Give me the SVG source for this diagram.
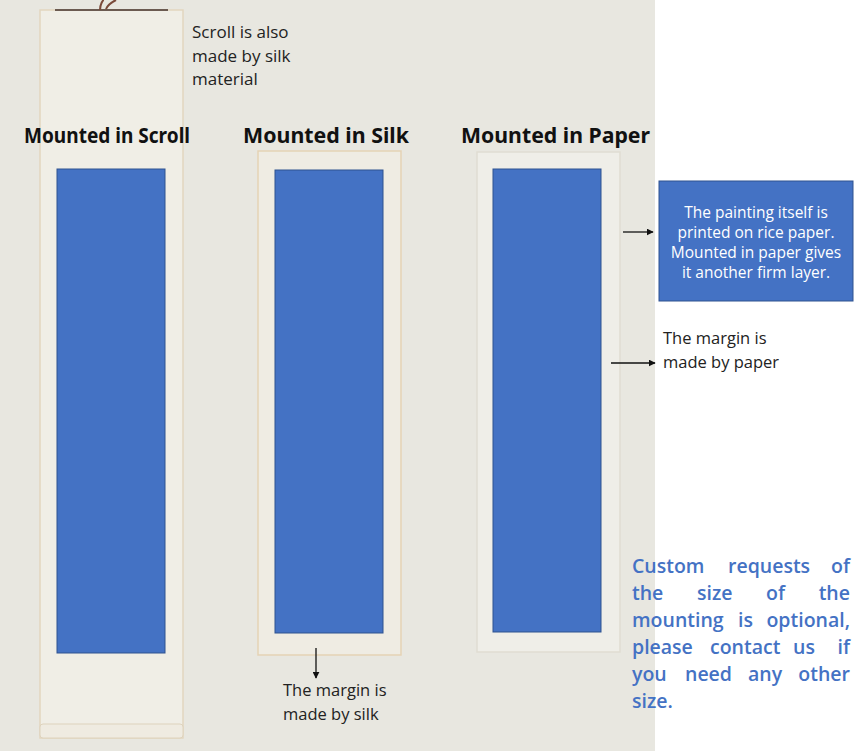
<svg xmlns="http://www.w3.org/2000/svg" width="859" height="751" viewBox="0 0 859 751">
<style>
.t{font-family:"Open Sans","Liberation Sans",sans-serif;fill:#222}
.h{font-family:"Noto Sans","Liberation Sans",sans-serif;font-weight:bold;font-size:21px;fill:#111}
.w{font-family:"Open Sans","Liberation Sans",sans-serif;font-size:15.5px;fill:#fff;text-anchor:middle}
.c{font-family:"Open Sans","Liberation Sans",sans-serif;font-size:19.5px;font-weight:600;fill:#4472c4}
.blue{fill:#4472c4;stroke:#2f528f;stroke-width:1}
.ln{stroke:#111;stroke-width:1.3;fill:none}
</style>
<defs>
<marker id="ah" viewBox="0 0 10 10" refX="9" refY="5" markerWidth="7" markerHeight="7" orient="auto" markerUnits="userSpaceOnUse"><path d="M0,0 L10,5 L0,10 z" fill="#111"/></marker>
</defs>
<rect x="0" y="0" width="859" height="751" fill="#fff"/>
<rect x="0" y="0" width="655" height="751" fill="#e8e7e0"/>
<g id="scroll">
<rect x="40" y="10" width="143" height="728" fill="#f0eee6" stroke="#e2d6bf" stroke-width="1.5"/>
<rect x="40" y="724" width="143" height="14" rx="3" fill="#efebe1" stroke="#ded3bd" stroke-width="1"/>
<path d="M55,10 L168,10" stroke="#6b5a50" stroke-width="2"/>
<path d="M100,10 C100,4 103,0 104,0 M106,9 C108,4 112,2 116,0" stroke="#7a4a3a" stroke-width="2" fill="none"/>
<rect class="blue" x="57" y="169" width="108" height="484"/>
</g>
<g id="silk">
<rect x="258" y="151" width="143" height="504" fill="#efece3" stroke="#e5d3b5" stroke-width="1.5"/>
<rect class="blue" x="275" y="170" width="108" height="463"/>
</g>
<g id="paper">
<rect x="477" y="152" width="143" height="500" fill="#efeee8" stroke="#e0ddd2" stroke-width="1.5"/>
<rect class="blue" x="493" y="169" width="108" height="463"/>
</g>
<g id="titles">
<text class="h" x="24" y="143" textLength="166" lengthAdjust="spacingAndGlyphs">Mounted in Scroll</text>
<text class="h" x="243" y="143" textLength="166" lengthAdjust="spacingAndGlyphs">Mounted in Silk</text>
<text class="h" x="461" y="143" textLength="189" lengthAdjust="spacingAndGlyphs">Mounted in Paper</text>
</g>
<g id="scroll-note">
<text class="t" font-size="17" x="192" y="38">Scroll is also</text>
<text class="t" font-size="17" x="192" y="62">made by silk</text>
<text class="t" font-size="17" x="192" y="85">material</text>
</g>
<g id="painting-note">
<rect class="blue" x="659" y="181" width="194" height="120" stroke="#4a6fb0"/>
<text class="w" x="756" y="218">The painting itself is</text>
<text class="w" x="756" y="238">printed on rice paper.</text>
<text class="w" x="756" y="258">Mounted in paper gives</text>
<text class="w" x="756" y="278">it another firm layer.</text>
</g>
<g id="paper-note">
<text class="t" font-size="16.5" x="663" y="344">The margin is</text>
<text class="t" font-size="16.5" x="663" y="368">made by paper</text>
</g>
<g id="silk-note">
<text class="t" font-size="16.5" x="283" y="696">The margin is</text>
<text class="t" font-size="16.5" x="283" y="720">made by silk</text>
</g>
<g id="connectors">
<line class="ln" x1="623" y1="232" x2="653" y2="232" marker-end="url(#ah)"/>
<line class="ln" x1="611" y1="363" x2="655" y2="363" marker-end="url(#ah)"/>
<line class="ln" x1="316" y1="648" x2="316" y2="678" marker-end="url(#ah)"/>
</g>
<g id="custom-note">
<text class="c" y="573"><tspan x="632">Custom</tspan><tspan x="728">requests</tspan><tspan x="850" text-anchor="end">of</tspan></text>
<text class="c" y="600"><tspan x="632">the</tspan><tspan x="697">size</tspan><tspan x="766">of</tspan><tspan x="850" text-anchor="end">the</tspan></text>
<text class="c" y="627"><tspan x="632">mounting</tspan><tspan x="738">is</tspan><tspan x="850" text-anchor="end">optional,</tspan></text>
<text class="c" y="654"><tspan x="632">please</tspan><tspan x="710">contact</tspan><tspan x="793">us</tspan><tspan x="850" text-anchor="end">if</tspan></text>
<text class="c" y="681"><tspan x="632">you</tspan><tspan x="685">need</tspan><tspan x="748">any</tspan><tspan x="850" text-anchor="end">other</tspan></text>
<text class="c" y="708"><tspan x="632">size.</tspan></text>
</g>
</svg>
